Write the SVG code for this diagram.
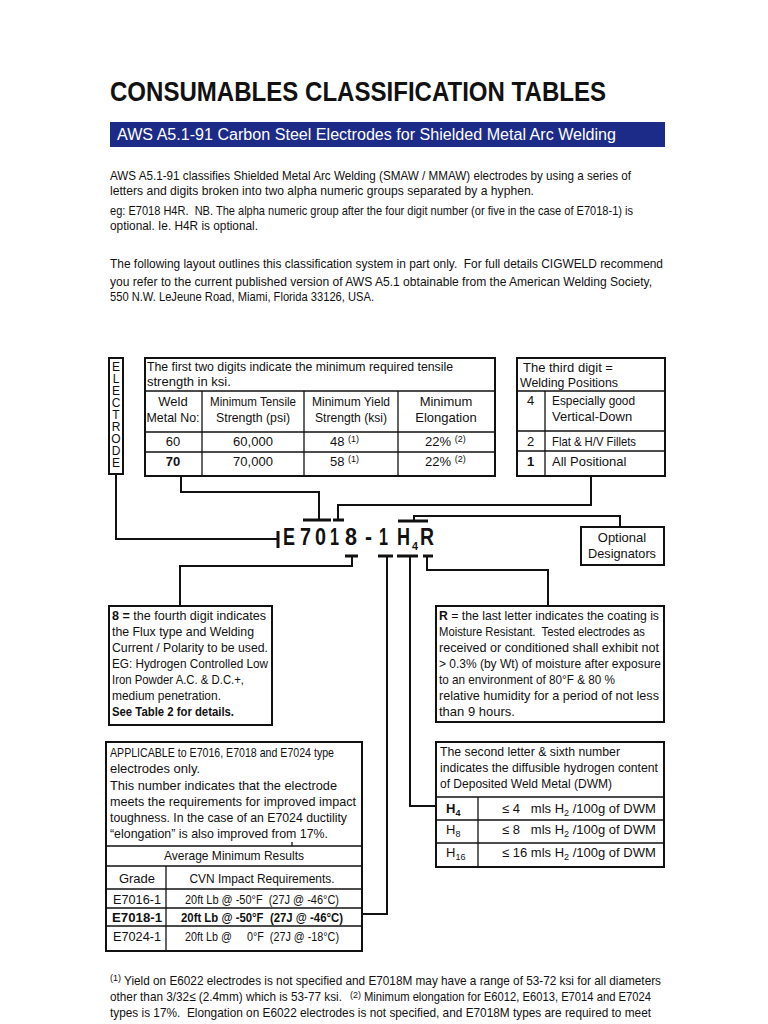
<svg xmlns="http://www.w3.org/2000/svg" width="768" height="1024" viewBox="0 0 768 1024">
<style>
text{font-family:"Liberation Sans","DejaVu Sans",sans-serif;fill:#111}
.t{font-size:13px}
.s{font-size:12.5px}
.c{text-anchor:middle}
.b{font-weight:bold}
.sup{font-size:9px}
.box{fill:none;stroke:#111;stroke-width:2}
.ln{fill:none;stroke:#111;stroke-width:1.3}
.con{fill:none;stroke:#111;stroke-width:2}
.tick{fill:none;stroke:#111;stroke-width:3}
.code{font-size:24px;font-weight:bold}
</style>
<rect width="768" height="1024" fill="#fff"/>

<g id="title">
<text x="110" y="101" font-size="28" font-weight="bold" textLength="496" lengthAdjust="spacingAndGlyphs">CONSUMABLES CLASSIFICATION TABLES</text>
<rect x="110" y="122" width="555" height="25" fill="#1c2b88"/>
<text x="117" y="140" font-size="16" style="fill:#fff" textLength="499" lengthAdjust="spacingAndGlyphs">AWS A5.1-91 Carbon Steel Electrodes for Shielded Metal Arc Welding</text>
</g>

<g id="intro" class="t">
<text x="110" y="180" textLength="521" lengthAdjust="spacingAndGlyphs">AWS A5.1-91 classifies Shielded Metal Arc Welding (SMAW / MMAW) electrodes by using a series of</text>
<text x="110" y="195" textLength="424" lengthAdjust="spacingAndGlyphs">letters and digits broken into two alpha numeric groups separated by a hyphen.</text>
<text x="110" y="215" xml:space="preserve" textLength="523" lengthAdjust="spacingAndGlyphs">eg: E7018 H4R.  NB. The alpha numeric group after the four digit number (or five in the case of E7018-1) is</text>
<text x="110" y="230" textLength="148" lengthAdjust="spacingAndGlyphs">optional. Ie. H4R is optional.</text>
<text x="110" y="268" xml:space="preserve" textLength="553" lengthAdjust="spacingAndGlyphs">The following layout outlines this classification system in part only.  For full details CIGWELD recommend</text>
<text x="110" y="286" textLength="542" lengthAdjust="spacingAndGlyphs">you refer to the current published version of AWS A5.1 obtainable from the American Welding Society,</text>
<text x="110" y="301" textLength="264" lengthAdjust="spacingAndGlyphs">550 N.W. LeJeune Road, Miami, Florida 33126, USA.</text>
</g>

<g id="electrode">
<rect class="box" x="109" y="358" width="14" height="116"/>
<g class="c" font-size="12">
<text x="116" y="371">E</text><text x="116" y="383">L</text><text x="116" y="395">E</text>
<text x="116" y="407">C</text><text x="116" y="419">T</text><text x="116" y="431">R</text>
<text x="116" y="443">O</text><text x="116" y="455">D</text><text x="116" y="467">E</text>
</g>
</g>

<g id="tensile">
<rect class="box" x="145" y="358" width="350" height="118"/>
<line class="ln" x1="145" y1="391" x2="495" y2="391"/>
<line class="ln" x1="145" y1="432" x2="495" y2="432"/>
<line class="ln" x1="145" y1="452" x2="495" y2="452"/>
<line class="ln" x1="202" y1="391" x2="202" y2="476"/>
<line class="ln" x1="304" y1="391" x2="304" y2="476"/>
<line class="ln" x1="398" y1="391" x2="398" y2="476"/>
<text class="t" x="147" y="371" textLength="306" lengthAdjust="spacingAndGlyphs">The first two digits indicate the minimum required tensile</text>
<text class="t" x="147" y="386">strength in ksi.</text>
<g class="t c">
<text x="173" y="406">Weld</text>
<text x="173" y="422" textLength="53" lengthAdjust="spacingAndGlyphs">Metal No:</text>
<text x="253" y="406" textLength="86" lengthAdjust="spacingAndGlyphs">Minimum Tensile</text>
<text x="253" y="422" textLength="74" lengthAdjust="spacingAndGlyphs">Strength (psi)</text>
<text x="351" y="406" textLength="78" lengthAdjust="spacingAndGlyphs">Minimum Yield</text>
<text x="351" y="422" textLength="72" lengthAdjust="spacingAndGlyphs">Strength (ksi)</text>
<text x="446" y="406">Minimum</text>
<text x="446" y="422">Elongation</text>
<text x="173" y="446">60</text><text x="253" y="446">60,000</text>
<text x="173" y="466" class="b">70</text><text x="253" y="466">70,000</text>
</g>
<g class="t">
<text x="330" y="446">48 <tspan class="sup" dy="-4">(1)</tspan></text>
<text x="330" y="466">58 <tspan class="sup" dy="-4">(1)</tspan></text>
<text x="425" y="446">22% <tspan class="sup" dy="-4">(2)</tspan></text>
<text x="425" y="466">22% <tspan class="sup" dy="-4">(2)</tspan></text>
</g>
</g>

<g id="third-digit">
<rect class="box" x="517" y="358" width="148" height="118"/>
<line class="ln" x1="517" y1="391" x2="665" y2="391"/>
<line class="ln" x1="517" y1="431" x2="665" y2="431"/>
<line class="ln" x1="517" y1="451" x2="665" y2="451"/>
<line class="ln" x1="545" y1="391" x2="545" y2="476"/>
<g class="t">
<text x="523" y="372">The third digit =</text>
<text x="520" y="387" textLength="98" lengthAdjust="spacingAndGlyphs">Welding Positions</text>
<text x="527" y="405">4</text>
<text x="552" y="405" textLength="83" lengthAdjust="spacingAndGlyphs">Especially good</text>
<text x="552" y="421">Vertical-Down</text>
<text x="527" y="446">2</text>
<text x="552" y="446" textLength="84" lengthAdjust="spacingAndGlyphs">Flat &amp; H/V Fillets</text>
<text x="527" y="466" class="b">1</text>
<text x="552" y="466">All Positional</text>
</g>
</g>

<g id="code">
<text class="code" x="283" y="545" textLength="12" lengthAdjust="spacingAndGlyphs">E</text>
<text class="code" x="300" y="545" textLength="11" lengthAdjust="spacingAndGlyphs">7</text>
<text class="code" x="315" y="545" textLength="11" lengthAdjust="spacingAndGlyphs">0</text>
<text class="code" x="330" y="545" textLength="9" lengthAdjust="spacingAndGlyphs">1</text>
<text class="code" x="345" y="545" textLength="12" lengthAdjust="spacingAndGlyphs">8</text>
<text class="code" x="365" y="545" textLength="7" lengthAdjust="spacingAndGlyphs">-</text>
<text class="code" x="379" y="545" textLength="9" lengthAdjust="spacingAndGlyphs">1</text>
<text class="code" x="397" y="545" textLength="13" lengthAdjust="spacingAndGlyphs">H</text>
<text x="412" y="550" font-size="10" font-weight="bold" textLength="6" lengthAdjust="spacingAndGlyphs">4</text>
<text class="code" x="420" y="545" textLength="14" lengthAdjust="spacingAndGlyphs">R</text>
</g>

<g id="optional">
<rect class="box" x="581" y="527" width="83" height="38"/>
<text class="t c" x="622" y="542">Optional</text>
<text class="t c" x="622" y="558" textLength="68" lengthAdjust="spacingAndGlyphs">Designators</text>
</g>

<g id="box-8">
<rect class="box" x="109" y="606" width="163" height="119"/>
<g class="t">
<text x="112" y="620" textLength="154" lengthAdjust="spacingAndGlyphs"><tspan class="b">8 =</tspan> the fourth digit indicates</text>
<text x="112" y="636" textLength="142" lengthAdjust="spacingAndGlyphs">the Flux type and Welding</text>
<text x="112" y="652" textLength="156" lengthAdjust="spacingAndGlyphs">Current / Polarity to be used.</text>
<text x="112" y="668" textLength="156" lengthAdjust="spacingAndGlyphs">EG: Hydrogen Controlled Low</text>
<text x="112" y="684" textLength="132" lengthAdjust="spacingAndGlyphs">Iron Powder A.C. &amp; D.C.+,</text>
<text x="112" y="700" textLength="109" lengthAdjust="spacingAndGlyphs">medium penetration.</text>
<text x="112" y="716" class="b" textLength="122" lengthAdjust="spacingAndGlyphs">See Table 2 for details.</text>
</g>
</g>

<g id="box-r">
<rect class="box" x="436" y="606" width="228" height="116"/>
<g class="t">
<text x="439" y="620" textLength="220" lengthAdjust="spacingAndGlyphs"><tspan class="b">R</tspan> = the last letter indicates the coating is</text>
<text x="439" y="636" xml:space="preserve" textLength="206" lengthAdjust="spacingAndGlyphs">Moisture Resistant.  Tested electrodes as</text>
<text x="439" y="652" textLength="220" lengthAdjust="spacingAndGlyphs">received or conditioned shall exhibit not</text>
<text x="439" y="668" textLength="222" lengthAdjust="spacingAndGlyphs">&gt; 0.3% (by Wt) of moisture after exposure</text>
<text x="439" y="684" textLength="176" lengthAdjust="spacingAndGlyphs">to an environment of 80°F &amp; 80 %</text>
<text x="439" y="700" textLength="220" lengthAdjust="spacingAndGlyphs">relative humidity for a period of not less</text>
<text x="439" y="716">than 9 hours.</text>
</g>
</g>

<g id="applicable">
<rect class="box" x="106" y="742" width="256" height="209"/>
<g class="t">
<text x="110" y="757" textLength="224" lengthAdjust="spacingAndGlyphs">APPLICABLE to E7016, E7018 and E7024 type</text>
<text x="110" y="773">electrodes only.</text>
<text x="110" y="790" textLength="227" lengthAdjust="spacingAndGlyphs">This number indicates that the electrode</text>
<text x="110" y="806" textLength="246" lengthAdjust="spacingAndGlyphs">meets the requirements for improved impact</text>
<text x="110" y="822" textLength="237" lengthAdjust="spacingAndGlyphs">toughness. In the case of an E7024 ductility</text>
<text x="110" y="838" textLength="218" lengthAdjust="spacingAndGlyphs">“elongation” is also improved from 17%.</text>
</g>
<line class="ln" x1="106" y1="846" x2="362" y2="846"/>
<line class="ln" x1="292" y1="842" x2="292" y2="846"/>
<line class="ln" x1="106" y1="866" x2="362" y2="866"/>
<line class="ln" x1="106" y1="889" x2="362" y2="889"/>
<line class="ln" x1="106" y1="908" x2="362" y2="908"/>
<line class="ln" x1="106" y1="926" x2="362" y2="926"/>
<line class="ln" x1="166" y1="866" x2="166" y2="951"/>
<g class="t c">
<text x="234" y="860" textLength="140" lengthAdjust="spacingAndGlyphs">Average Minimum Results</text>
<text x="137" y="883">Grade</text>
<text x="262" y="883" textLength="145" lengthAdjust="spacingAndGlyphs">CVN Impact Requirements.</text>
<text x="137" y="904" class="s" textLength="48" lengthAdjust="spacingAndGlyphs">E7016-1</text>
<text x="137" y="922" class="s b" textLength="50" lengthAdjust="spacingAndGlyphs">E7018-1</text>
<text x="137" y="941" class="s" textLength="48" lengthAdjust="spacingAndGlyphs">E7024-1</text>
<text x="262" y="904" class="s" xml:space="preserve" textLength="154" lengthAdjust="spacingAndGlyphs">20ft Lb @ -50°F  (27J @ -46°C)</text>
<text x="262" y="922" class="s b" xml:space="preserve" textLength="162" lengthAdjust="spacingAndGlyphs">20ft Lb @ -50°F  (27J @ -46°C)</text>
<text x="262" y="941" class="s" xml:space="preserve" textLength="154" lengthAdjust="spacingAndGlyphs">20ft Lb @     0°F  (27J @ -18°C)</text>
</g>
</g>

<g id="hydrogen">
<rect class="box" x="436" y="742" width="228" height="125"/>
<g class="t">
<text x="440" y="756" textLength="180" lengthAdjust="spacingAndGlyphs">The second letter &amp; sixth number</text>
<text x="440" y="772" textLength="218" lengthAdjust="spacingAndGlyphs">indicates the diffusible hydrogen content</text>
<text x="440" y="788" textLength="172" lengthAdjust="spacingAndGlyphs">of Deposited Weld Metal (DWM)</text>
</g>
<line class="ln" x1="436" y1="797" x2="664" y2="797"/>
<line class="ln" x1="436" y1="820" x2="664" y2="820"/>
<line class="ln" x1="436" y1="843" x2="664" y2="843"/>
<line class="ln" x1="478" y1="797" x2="478" y2="867"/>
<g class="t">
<text x="446" y="813" class="b">H<tspan font-size="9" dy="3">4</tspan></text>
<text x="446" y="834">H<tspan font-size="9" dy="3">8</tspan></text>
<text x="446" y="857">H<tspan font-size="9" dy="3">16</tspan></text>
<text x="502" y="813" xml:space="preserve">≤ 4   mls H<tspan font-size="9" dy="3">2</tspan><tspan dy="-3"> /100g of DWM</tspan></text>
<text x="502" y="834" xml:space="preserve">≤ 8   mls H<tspan font-size="9" dy="3">2</tspan><tspan dy="-3"> /100g of DWM</tspan></text>
<text x="502" y="857" xml:space="preserve">≤ 16 mls H<tspan font-size="9" dy="3">2</tspan><tspan dy="-3"> /100g of DWM</tspan></text>
</g>
</g>

<g id="connectors">
<polyline class="con" points="116,474 116,539 278,539"/>
<line class="tick" x1="278" y1="531" x2="278" y2="548"/>
<polyline class="con" points="181,476 181,492 319,492 319,520"/>
<line class="tick" x1="303" y1="520" x2="331" y2="520"/>
<polyline class="con" points="591,476 591,505 338,505 338,520"/>
<line class="tick" x1="333" y1="520" x2="344" y2="520"/>
<polyline class="con" points="414,521 414,516 620,516 620,527"/>
<line class="tick" x1="398" y1="521" x2="428" y2="521"/>
<line class="tick" x1="345" y1="556" x2="358" y2="556"/>
<polyline class="con" points="352,556 352,566 180,566 180,606"/>
<line class="tick" x1="378" y1="556" x2="393" y2="556"/>
<polyline class="con" points="387,556 387,914 362,914"/>
<line class="tick" x1="397" y1="556" x2="418" y2="556"/>
<polyline class="con" points="410,556 410,806 436,806"/>
<line class="tick" x1="423" y1="556" x2="433" y2="556"/>
<polyline class="con" points="427,556 427,570 548,570 548,606"/>
</g>

<g id="footnote" class="t">
<text x="110" y="981" class="sup">(1)</text>
<text x="124" y="985" textLength="537" lengthAdjust="spacingAndGlyphs">Yield on E6022 electrodes is not specified and E7018M may have a range of 53-72 ksi for all diameters</text>
<text x="110" y="1001" textLength="232" lengthAdjust="spacingAndGlyphs">other than 3/32≤ (2.4mm) which is 53-77 ksi.</text>
<text x="350" y="998" class="sup">(2)</text>
<text x="364" y="1001" textLength="287" lengthAdjust="spacingAndGlyphs">Minimum elongation for E6012, E6013, E7014 and E7024</text>
<text x="110" y="1017" xml:space="preserve" textLength="541" lengthAdjust="spacingAndGlyphs">types is 17%.  Elongation on E6022 electrodes is not specified, and E7018M types are required to meet</text>
<text x="110" y="1033">24%</text>
</g>
</svg>
